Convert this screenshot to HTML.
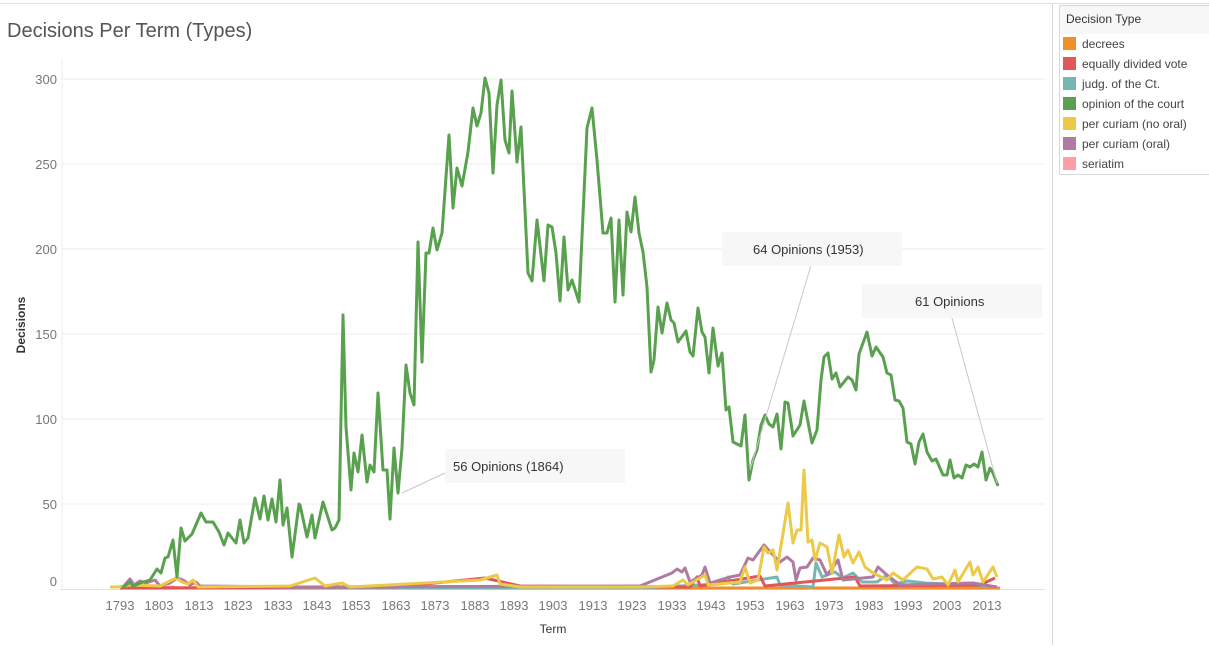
<!DOCTYPE html>
<html><head><meta charset="utf-8"><style>
body{margin:0;background:#fff;width:1209px;height:645px;overflow:hidden;font-family:"Liberation Sans",sans-serif;}
</style></head><body>
<svg width="1209" height="645" xmlns="http://www.w3.org/2000/svg" font-family="Liberation Sans, sans-serif">
<line x1="0" y1="3.5" x2="1209" y2="3.5" stroke="#e0e0e0"/>
<line x1="1052.5" y1="4" x2="1052.5" y2="645" stroke="#d8d8d8"/>
<text x="7" y="37" font-size="20" fill="#555">Decisions Per Term (Types)</text>
<g stroke="#ececec" stroke-width="1">
<line x1="62" y1="79" x2="1045" y2="79"/><line x1="62" y1="164" x2="1045" y2="164"/><line x1="62" y1="249" x2="1045" y2="249"/><line x1="62" y1="334" x2="1045" y2="334"/><line x1="62" y1="419" x2="1045" y2="419"/><line x1="62" y1="504" x2="1045" y2="504"/>
<line x1="62" y1="60" x2="62" y2="589"/>
</g>
<line x1="60" y1="589.5" x2="1045" y2="589.5" stroke="#e2e2e2"/>
<g font-size="13" fill="#777" text-anchor="end">
<text x="57" y="84">300</text><text x="57" y="169">250</text><text x="57" y="254">200</text><text x="57" y="339">150</text><text x="57" y="424">100</text><text x="57" y="509">50</text><text x="57" y="586">0</text>
</g>
<g font-size="13" fill="#777" text-anchor="middle">
<text x="120" y="610">1793</text><text x="159" y="610">1803</text><text x="199" y="610">1813</text><text x="238" y="610">1823</text><text x="278" y="610">1833</text><text x="317" y="610">1843</text><text x="356" y="610">1853</text><text x="396" y="610">1863</text><text x="435" y="610">1873</text><text x="475" y="610">1883</text><text x="514" y="610">1893</text><text x="553" y="610">1903</text><text x="593" y="610">1913</text><text x="632" y="610">1923</text><text x="672" y="610">1933</text><text x="711" y="610">1943</text><text x="750" y="610">1953</text><text x="790" y="610">1963</text><text x="829" y="610">1973</text><text x="869" y="610">1983</text><text x="908" y="610">1993</text><text x="947" y="610">2003</text><text x="987" y="610">2013</text>
</g>
<text x="553" y="633" font-size="12" fill="#333" text-anchor="middle">Term</text>
<text transform="translate(25,325) rotate(-90)" font-size="12" font-weight="bold" fill="#333" text-anchor="middle">Decisions</text>
<g fill="none" stroke-width="3" stroke-linejoin="round">
<polyline stroke="#f28e2b" points="120,588 1000,588"/>
<polyline stroke="#ff9da7" points="160,588 172,587 180,588"/>
<polyline stroke="#76b7b2" points="182,588 230,588 640,588 720,584 728,577 733,584 777,577 780,585 813,587 816,563 822,577 835,572 843,578 853,573 862,582 877,582 887,575 895,584 907,581 917,582 925,583 990,586"/>
<polyline stroke="#e15759" points="120,588 395,587 485,578 520,586 690,587 697,577 700,586 760,576 765,586 855,577 860,586 980,585 995,578"/>
<polyline stroke="#b07aa1" points="122,588 130,579 134,585 140,581 146,583 155,580 160,586 170,583 177,578 183,580 190,585 196,582 200,586 300,587 640,586 672,573 677,569 682,572 685,568 690,582 702,575 705,567 710,583 730,577 740,575 748,558 753,560 764,545 773,555 780,562 787,557 793,562 796,580 800,568 807,567 813,558 820,560 827,575 833,567 838,560 843,580 873,577 878,567 887,575 900,585 973,583 997,587"/>
<polyline stroke="#edc948" points="110,587 118,587 130,585 160,586 172,580 176,578 182,582 188,584 193,580 198,587 290,586 315,578 325,586 342,583 350,587 480,580 497,575 500,584 520,587 640,587 673,586 683,580 688,585 705,575 708,585 740,582 745,567 750,583 758,580 764,547 768,553 773,550 777,570 788,503 793,543 797,530 801,530 804,470 808,542 812,540 815,560 820,543 827,547 832,573 839,535 844,557 848,550 853,563 859,552 865,567 873,573 887,580 893,573 903,580 917,567 927,569 933,579 942,577 948,585 955,570 958,582 970,562 973,575 978,567 983,582 993,567 997,577"/>
<polyline stroke="#59a14f" points="122,588 130,582 133,586 140,583 150,580 157,569 161,573 165,558 168,557 173,540 177,577 181,528 185,541 192,534 201,513 206,522 213,522 219,532 224,545 228,533 236,543 240,520 244,543 248,538 255,498 260,519 264,496 268,520 272,499 276,522 280,480 283,525 287,508 292,557 299,504 300,505 307,537 312,515 315,538 323,502 332,530 335,528 339,520 343,315 346,427 351,490 354,453 358,472 362,435 367,482 370,465 374,472 378,393 383,470 387,470 390,519 394,448 398,493 402,448 406,365 410,393 414,405 418,242 422,362 426,253 429,253 433,228 437,250 442,233 449,135 453,208 457,168 462,186 468,152 473,108 477,126 481,113 485,78 489,93 493,173 497,105 501,80 505,140 509,153 512,91 517,162 521,127 528,273 532,281 537,220 544,281 548,225 552,227 556,253 560,301 564,237 568,290 572,280 579,302 587,128 592,108 597,160 603,233 607,233 611,218 615,302 619,220 623,295 627,212 631,232 635,197 639,233 643,252 647,287 651,372 654,360 658,307 662,333 667,303 671,320 674,323 678,342 686,331 690,352 693,356 698,308 702,332 705,337 709,373 713,328 718,366 722,353 726,410 729,407 733,442 741,446 745,415 749,480 753,460 757,450 761,425 765,415 769,424 773,427 777,414 781,449 785,402 788,403 793,436 800,425 804,401 812,443 817,430 821,380 824,357 828,353 832,379 836,373 840,387 848,377 852,380 856,390 859,354 867,332 872,356 876,347 883,357 887,373 891,375 895,400 899,401 903,408 907,442 911,444 915,464 919,442 923,434 927,452 932,461 936,459 943,475 947,475 950,460 954,478 958,475 962,478 966,465 970,467 974,464 978,467 982,452 986,480 990,468 993,473 998,486"/>
</g>
<g stroke="#c8c8c8" stroke-width="1">
<line x1="445" y1="473" x2="402" y2="493"/>
<line x1="812" y1="262" x2="750" y2="470"/>
<line x1="952" y1="318" x2="997" y2="483"/>
</g>
<g fill="#f7f7f7">
<rect x="445" y="449" width="180" height="34"/>
<rect x="722" y="232" width="180" height="34"/>
<rect x="862" y="284" width="180" height="34"/>
</g>
<g font-size="13" fill="#333">
<text x="453" y="471">56 Opinions (1864)</text>
<text x="753" y="254">64 Opinions (1953)</text>
<text x="915" y="306">61 Opinions</text>
</g>
<rect x="1059.5" y="5.5" width="152" height="169" fill="#fff" stroke="#d8d8d8"/>
<rect x="1060" y="6" width="151" height="28" fill="#f7f7f7"/>
<text x="1066" y="23" font-size="12" fill="#333">Decision Type</text>
<g font-size="12" fill="#444">
<rect x="1063" y="37" width="13" height="13" fill="#f28e2b"/><text x="1082" y="48">decrees</text>
<rect x="1063" y="57" width="13" height="13" fill="#e15759"/><text x="1082" y="68">equally divided vote</text>
<rect x="1063" y="77" width="13" height="13" fill="#76b7b2"/><text x="1082" y="88">judg. of the Ct.</text>
<rect x="1063" y="97" width="13" height="13" fill="#59a14f"/><text x="1082" y="108">opinion of the court</text>
<rect x="1063" y="117" width="13" height="13" fill="#edc948"/><text x="1082" y="128">per curiam (no oral)</text>
<rect x="1063" y="137" width="13" height="13" fill="#b07aa1"/><text x="1082" y="148">per curiam (oral)</text>
<rect x="1063" y="157" width="13" height="13" fill="#ff9da7"/><text x="1082" y="168">seriatim</text>
</g>
</svg>
</body></html>
